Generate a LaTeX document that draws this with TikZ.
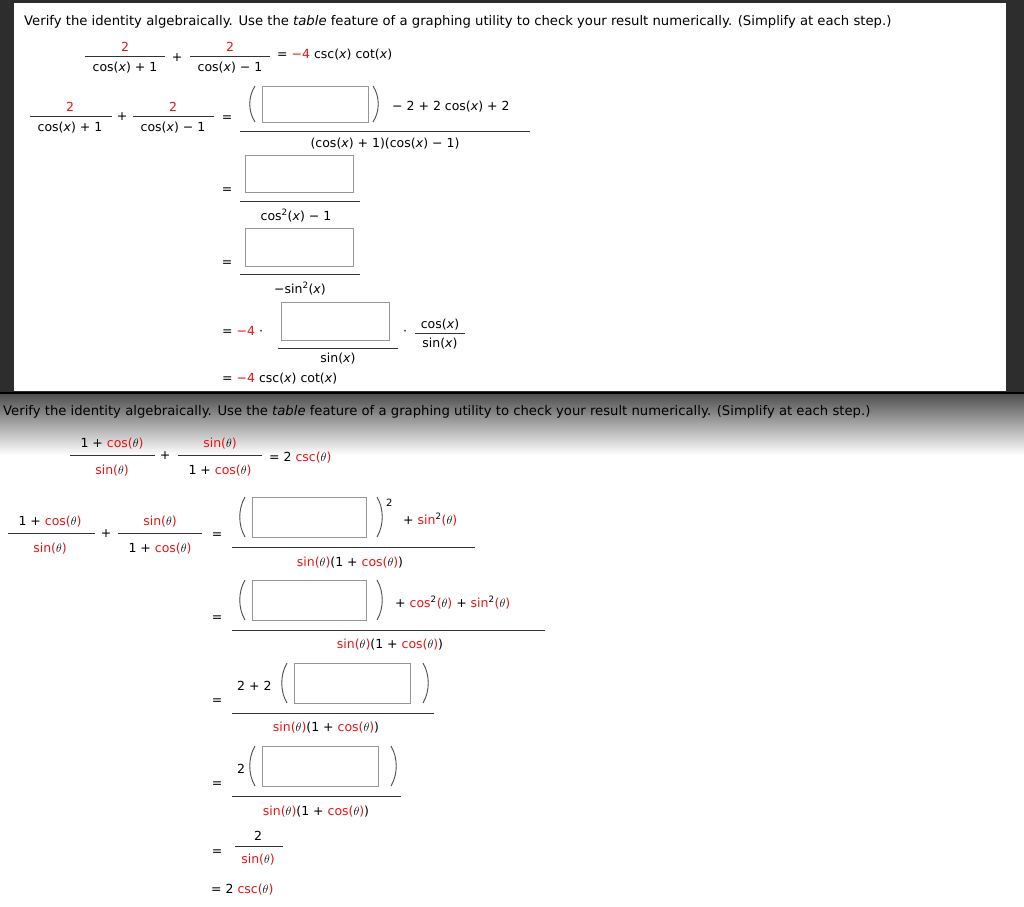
\documentclass[tikz,border=0pt]{standalone}
\usepackage{fontspec}
\setmainfont{DejaVu Sans}
\definecolor{rd}{RGB}{235,20,20}
\definecolor{bx}{RGB}{150,150,150}
\definecolor{bar}{RGB}{45,45,45}
\newcommand{\R}[1]{\textcolor{rd}{#1}}
\newcommand{\X}{\textit{x}}
\newcommand{\T}{$\theta$}
\newcommand{\mn}{\raisebox{0pt}{−}}
\tikzset{
 t/.style={font=\fontsize{12.5}{14}\selectfont,inner sep=0pt,anchor=base west},
 tc/.style={font=\fontsize{12.5}{14}\selectfont,inner sep=0pt,anchor=base},
 hd/.style={font=\fontsize{13.2}{15}\selectfont,inner sep=0pt,anchor=base west},
 ansbox/.style={draw=bx,line width=1pt,fill=white},
 fl/.style={line width=0.8pt,black!80},
 par/.style={line width=0.9pt,black!70}
}
\newcommand{\lpar}[3]{\draw[par] (#1+5,#2) .. controls (#1-2,#2+0.3*#3-0.3*#2) and (#1-2,#2+0.7*#3-0.7*#2) .. (#1+5,#3);}
\newcommand{\rpar}[3]{\draw[par] (#1-5,#2) .. controls (#1+2,#2+0.3*#3-0.3*#2) and (#1+2,#2+0.7*#3-0.7*#2) .. (#1-5,#3);}
\begin{document}
\begin{tikzpicture}[x=1pt,y=-1pt]
\useasboundingbox (0,0) rectangle (1024,906);
% top panel frame
\fill[bar] (0,0) rectangle (1024,393);
\fill[white] (14,3) rectangle (1006,391);
\shade[top color=black!70,bottom color=white] (0,393) rectangle (1024,455);
\fill[white] (0,455) rectangle (1024,906);
\draw[black,line width=2pt] (0,393) -- (1024,393);
% header 1
\node[hd] (h1) at (24,25) {Verify the identity algebraically. Use the \textit{table} feature of a graphing utility to check your result numerically. (Simplify at each step.)};
% eq 1
\node[tc] (a1n) at (125,51) {\R{2}};
\draw[fl] (85,56) -- (165,56);
\node[tc] (a1d) at (125,71) {cos(\X) + 1};
\node[tc] (a1p) at (177,61) {+};
\node[tc] (a2n) at (230,51) {\R{2}};
\draw[fl] (190,56) -- (270,56);
\node[tc] (a2d) at (230,71) {cos(\X) − 1};
\node[t] (a3) at (277,58) {= \R{−4} csc(\X) cot(\X)};
% eq 2
\node[tc] (b1n) at (70,111) {\R{2}};
\draw[fl] (30,116) -- (112,116);
\node[tc] (b1d) at (70,131) {cos(\X) + 1};
\node[tc] (b1p) at (122,120) {+};
\node[tc] (b2n) at (173,111) {\R{2}};
\draw[fl] (133,116) -- (214,116);
\node[tc] (b2d) at (173,131) {cos(\X) − 1};
\node[tc] (beq) at (227,121) {=};
\lpar{250}{86}{122}
\draw[ansbox] (262,86) rectangle (368,122);
\rpar{378}{86}{122}
\node[t] (b3) at (392,110) {− 2 + 2 cos(\X) + 2};
\draw[fl] (240,131) -- (530,131);
\node[tc] (b3d) at (385,147) {(cos(\X) + 1)(cos(\X) − 1)};
% eq 3
\node[tc] (ceq) at (227,193) {=};
\draw[ansbox] (245,155) rectangle (353,192);
\draw[fl] (240,201) -- (360,201);
\node[tc] (cd) at (296,220) {cos\textsuperscript{2}(\X) − 1};
% eq 4
\node[tc] (deq) at (227,266) {=};
\draw[ansbox] (245,228) rectangle (353,266);
\draw[fl] (240,274) -- (360,274);
\node[tc] (dd) at (300,293) {−sin\textsuperscript{2}(\X)};
% eq 5
\node[t] (e1) at (222,335) {= \R{−4} ·};
\draw[ansbox] (281,302) rectangle (389,340);
\draw[fl] (278,348) -- (398,348);
\node[tc] (ed) at (338,362) {sin(\X)};
\node[tc] (edot) at (405,335) {·};
\node[tc] (efn) at (440,328) {cos(\X)};
\draw[fl] (415,333) -- (465,333);
\node[tc] (efd) at (440,347) {sin(\X)};
\node[t] (f1) at (222,382) {= \R{−4} csc(\X) cot(\X)};
% header 2
\node[hd] (h2) at (3,415) {Verify the identity algebraically. Use the \textit{table} feature of a graphing utility to check your result numerically. (Simplify at each step.)};
% eq 1
\node[tc] (g1n) at (112,447) {1 + \R{cos(}\T\R{)}};
\draw[fl] (70,455) -- (155,455);
\node[tc] (g1d) at (112,474) {\R{sin(}\T\R{)}};
\node[tc] (g1p) at (165,459) {+};
\node[tc] (g2n) at (220,447) {\R{sin(}\T\R{)}};
\draw[fl] (178,455) -- (262,455);
\node[tc] (g2d) at (220,474) {1 + \R{cos(}\T\R{)}};
\node[t] (g3) at (269,461) {= 2 \R{csc(}\T\R{)}};
% eq 2
\node[tc] (k1n) at (50,525) {1 + \R{cos(}\T\R{)}};
\draw[fl] (8,533) -- (95,533);
\node[tc] (k1d) at (50,552) {\R{sin(}\T\R{)}};
\node[tc] (k1p) at (106,537) {+};
\node[tc] (k2n) at (160,525) {\R{sin(}\T\R{)}};
\draw[fl] (118,533) -- (202,533);
\node[tc] (k2d) at (160,552) {1 + \R{cos(}\T\R{)}};
\node[tc] (keq) at (217,538) {=};
\lpar{240}{497}{537}
\draw[ansbox] (236+0,497) ++(0,0) (235,497);
\draw[ansbox] (252,497) rectangle (366,537);
\rpar{382}{497}{537}
\node[t] (k3) at (386,506) {\fontsize{10}{10}\selectfont 2};
\node[t] (k4) at (403,524) {+ \R{sin}\textsuperscript{2}\R{(}\T\R{)}};
\draw[fl] (232,547) -- (475,547);
\node[tc] (kd) at (350,566) {\R{sin(}\T\R{)}(1 + \R{cos(}\T\R{)})};
% eq 3
\node[tc] (meq) at (217,621) {=};
\lpar{240}{580}{620}
\draw[ansbox] (252,580) rectangle (366,620);
\rpar{382}{580}{620}
\node[t] (m3) at (395,607) {+ \R{cos}\textsuperscript{2}\R{(}\T\R{)} + \R{sin}\textsuperscript{2}\R{(}\T\R{)}};
\draw[fl] (232,630) -- (545,630);
\node[tc] (md) at (390,648) {\R{sin(}\T\R{)}(1 + \R{cos(}\T\R{)})};
% eq 4
\node[tc] (neq) at (217,704) {=};
\node[t] (n1) at (237,690) {2 + 2};
\lpar{282}{663}{703}
\draw[ansbox] (294,663) rectangle (410,703);
\rpar{428}{663}{703}
\draw[fl] (232,713) -- (434,713);
\node[tc] (nd) at (326,731) {\R{sin(}\T\R{)}(1 + \R{cos(}\T\R{)})};
% eq 5
\node[tc] (peq) at (217,787) {=};
\node[t] (p1) at (237,773) {2};
\lpar{250}{746}{786}
\draw[ansbox] (262,746) rectangle (378,786);
\rpar{396}{746}{786}
\draw[fl] (232,796) -- (401,796);
\node[tc] (pd) at (316,815) {\R{sin(}\T\R{)}(1 + \R{cos(}\T\R{)})};
% eq 6
\node[tc] (qeq) at (217,855) {=};
\node[tc] (qn) at (258,840) {2};
\draw[fl] (235,846) -- (283,846);
\node[tc] (qd) at (258,863) {\R{sin(}\T\R{)}};
\node[t] (r1) at (211,893) {= 2 \R{csc(}\T\R{)}};
\end{tikzpicture}
\end{document}
